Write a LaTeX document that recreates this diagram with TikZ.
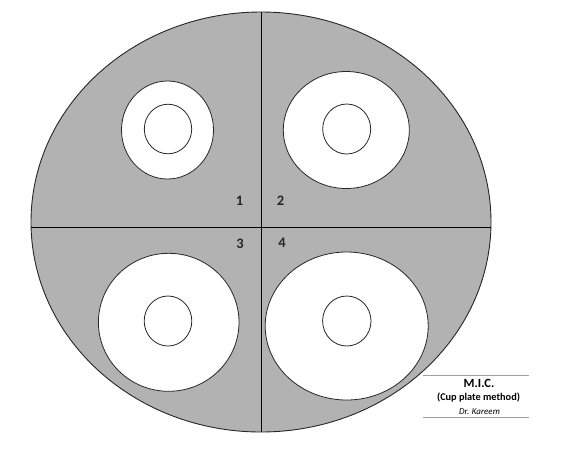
\documentclass[tikz,border=0pt]{standalone}
\usepackage{fontspec}
\setmainfont{Carlito}
\definecolor{plategray}{RGB}{178,178,178}
\definecolor{rulegray}{RGB}{160,160,160}
\tikzset{
  platefill/.style={fill=plategray},
  outline/.style={draw=black!85, line width=0.9pt},
  zone/.style={fill=white, draw=black!85, line width=0.8pt},
  cup/.style={draw=black!85, line width=0.8pt},
  divider/.style={draw=black, line width=1pt},
  qlabel/.style={font=\fontsize{14.5}{16}\selectfont\bfseries, text=black!85, inner sep=0pt},
}
\begin{document}
\begin{tikzpicture}[x=1pt,y=-1pt]
\useasboundingbox (0,0) rectangle (580,472);
% plate
\coordinate (c) at (261,222);
\fill[platefill] (c) ellipse [x radius=230, y radius=210];
\begin{scope}
  \clip (c) ellipse [x radius=230, y radius=210];
  \draw[divider] (0,227.5) coordinate (hl) -- (580,227.5) coordinate (hr);
  \draw[divider] (261,0) coordinate (vt) -- (261,472) coordinate (vb);
  % zones of inhibition
  \draw[zone] (167.5,130) ellipse [x radius=46, y radius=49];
  \draw[zone] (346.3,130) ellipse [x radius=63, y radius=58.5];
  \draw[zone] (168.7,322.3) ellipse [x radius=70.3, y radius=69];
  \draw[zone] (346.7,326) ellipse [x radius=81.5, y radius=74];
\end{scope}
% cups
\draw[cup] (168,129) ellipse [x radius=23.7, y radius=24.8];
\draw[cup] (346.7,129) ellipse [x radius=24, y radius=25];
\draw[cup] (168,321) ellipse [x radius=23.8, y radius=25];
\draw[cup] (346.8,321) ellipse [x radius=24.2, y radius=25];
% outline
\draw[outline] (c) ellipse [x radius=230, y radius=210];
% quadrant numbers
\node[qlabel] (n1) at (239.5,201) {1};
\node[qlabel] (n2) at (280.5,200.5) {2};
\node[qlabel] (n3) at (240,244) {3};
\node[qlabel] (n4) at (282,243) {4};
% caption
\draw[rulegray, line width=0.6pt] (423,375) -- (529,375);
\draw[rulegray, line width=1.5pt] (423,417.5) -- (529,417.5);
\node[font=\fontsize{12.5}{14}\selectfont\bfseries, inner sep=0pt] (t1) at (479,383.5) {M.I.C.};
\node[font=\fontsize{10.3}{12}\selectfont\bfseries, inner sep=0pt] (t2) at (478.5,397.5) {(Cup plate method)};
\node[font=\fontsize{9}{11}\selectfont\itshape, inner sep=0pt] (t3) at (479.5,411.5) {Dr. Kareem};
\end{tikzpicture}
\end{document}
